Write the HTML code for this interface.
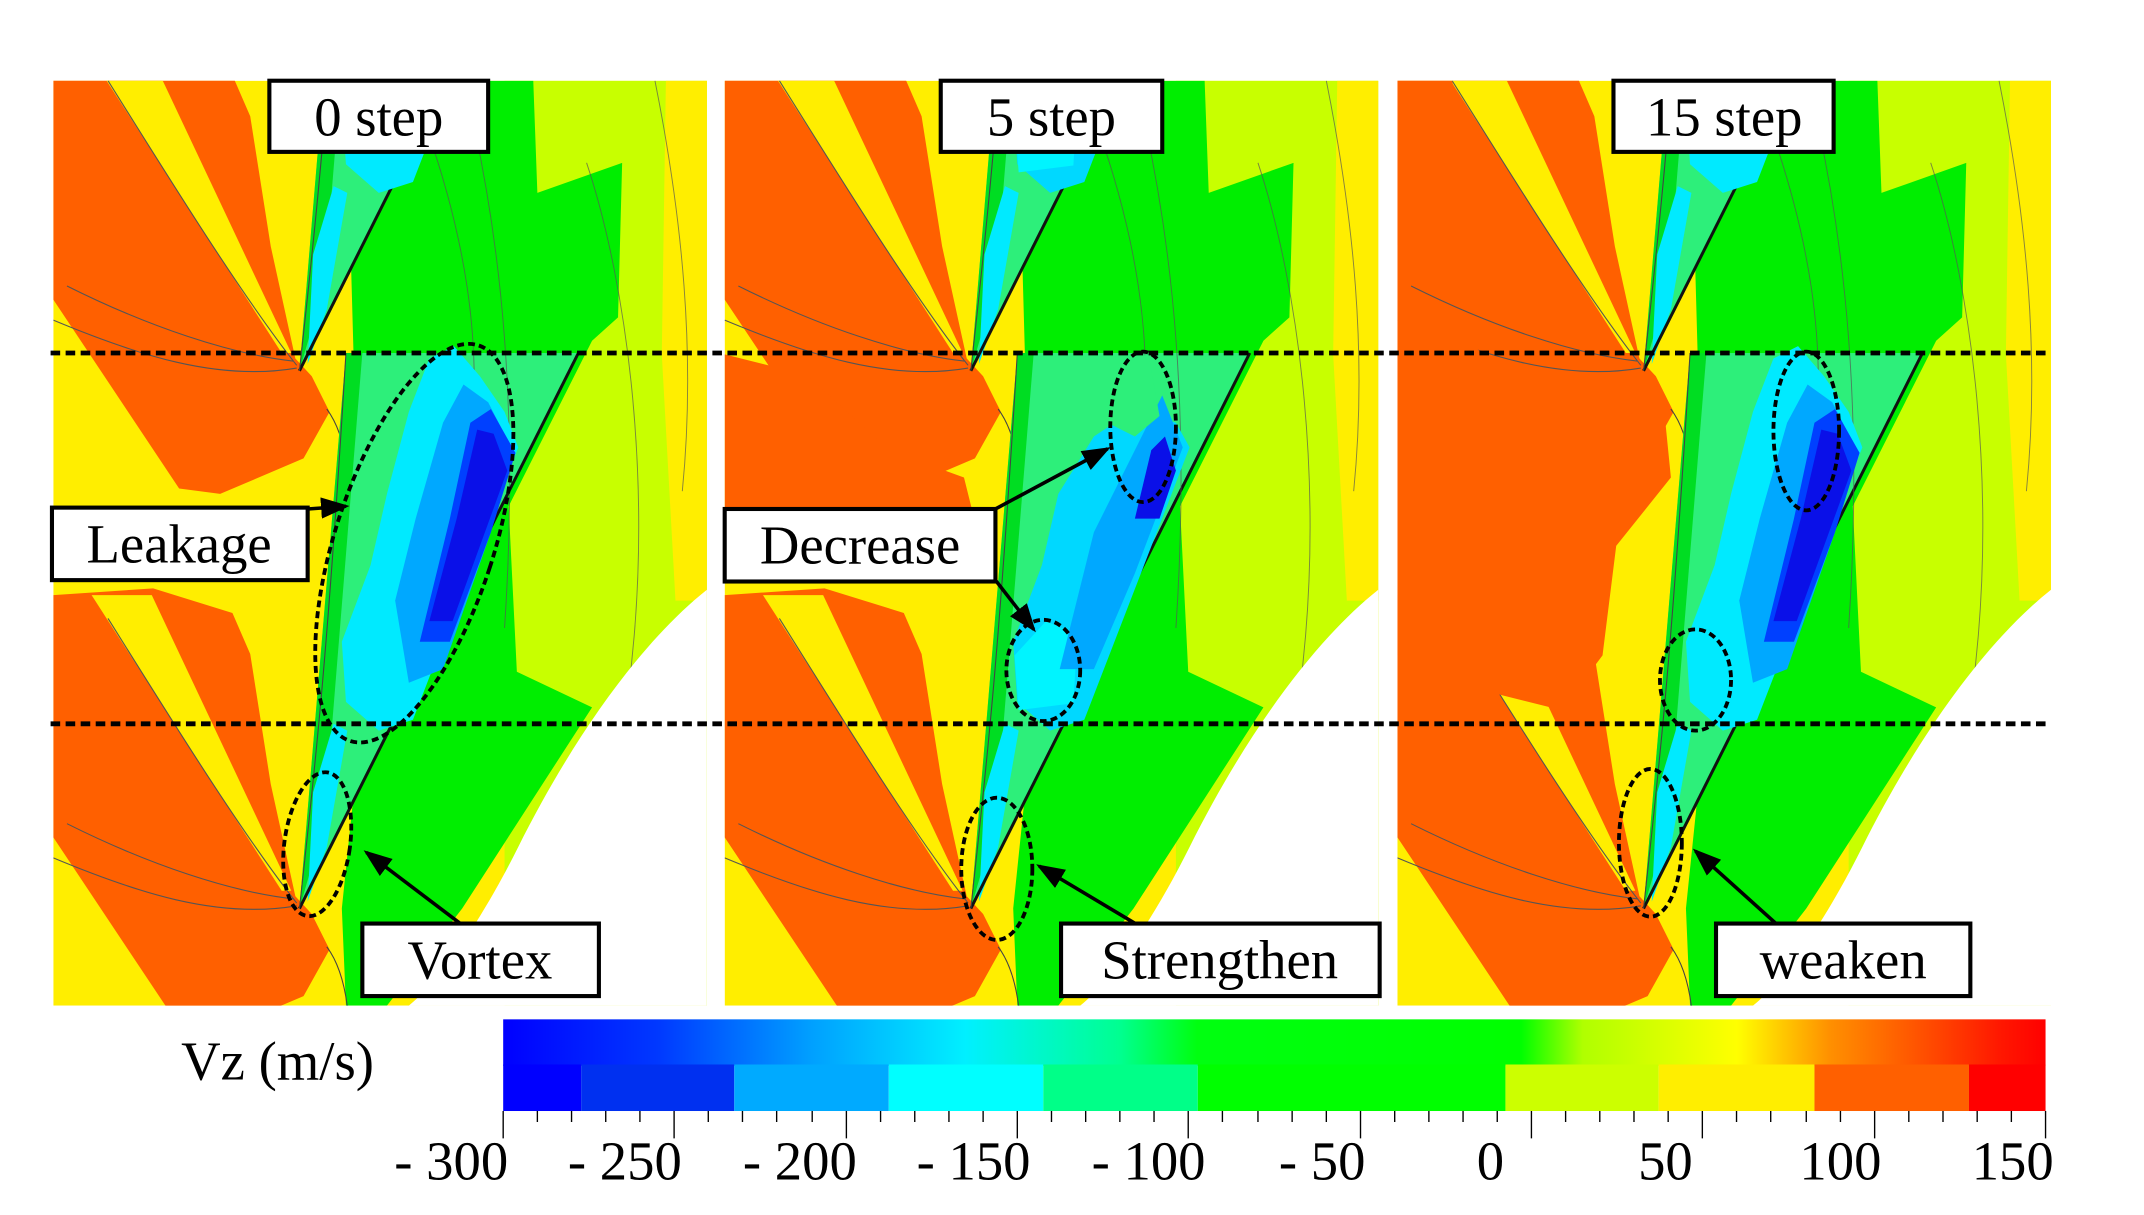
<!DOCTYPE html>
<html><head><meta charset="utf-8"><style>
html,body{margin:0;padding:0;background:#fff;}
svg{display:block;}
text{font-family:"Liberation Serif",serif;}
</style></head><body>
<svg width="2144" height="1215" viewBox="0 0 1568 888" preserveAspectRatio="none" xmlns="http://www.w3.org/2000/svg">
<defs>
<clipPath id="cp"><rect x="0" y="0" width="478" height="676"/></clipPath>
<g id="per">
  <polygon fill="#ff6000" points="0,-17 73,-22 131,-4 144,26 159,121 177,203 189,216 202,242 183,276 122,302 92,298 0,160"/>
  <polygon fill="#ffee00" points="28,-17 72,-17 174,199 167,199"/>
  <path d="M0,175 C60,200 120,220 178,210 M10,150 C70,180 130,200 176,205 M40,0 C90,80 140,160 178,208" stroke="#555" stroke-width="0.8" fill="none"/>
  <polygon fill="#2def7a" points="180,212 214,-194 384,-194"/>
  <polygon fill="#00dd22" points="180,212 214,-194 226,-194 198,150"/>
  <polygon fill="#00eaff" points="186,207 190,127 205,77 215,82 200,167"/>
  <line x1="180" y1="212" x2="384" y2="-194" stroke="#111" stroke-width="2.2"/>
  <path d="M180,212 C190,120 200,40 214,-194" stroke="#444" stroke-width="0.8" fill="none"/>
  <path d="M200,240 C215,260 220,300 214,340" stroke="#444" stroke-width="0.8" fill="none"/>
</g>
<g id="base">
  <rect x="0" y="0" width="478" height="676" fill="#ffee00"/>
  <rect x="330" y="0" width="148" height="676" fill="#c8ff00"/>
  <polygon fill="#ffee00" points="448,0 478,0 478,380 455,380 445,200"/>
  <polygon fill="#00ee00" points="214,0 351,0 354,82 416,60 413,173 394,190 333,311 339,432 394,458 299,605 244,676 214,676 211,605 220,518 214,259 220,216"/>
  <use href="#per"/>
  <use href="#per" transform="translate(0,393)"/>
  <path d="M260,0 C300,100 320,200 300,300 M300,0 C330,120 340,250 330,400 M390,60 C420,150 440,300 420,450 M440,0 C460,100 470,200 460,300" stroke="#555" stroke-width="0.7" fill="none" opacity="0.7"/>
</g>
<g id="white"><path d="M478,372 C430,410 380,480 340,560 C310,620 280,660 260,676 L478,676 Z" fill="#fff"/></g>
<g id="blobA">
  <polygon fill="#00eaff" points="238,475 214,454 211,410 232,354 244,302 260,242 275,203 293,194 312,216 330,242 340,268 263,467"/>
  <polygon fill="#00a8ff" points="260,440 250,380 265,320 285,250 300,222 318,235 335,268 320,330 285,430"/>
  <polygon fill="#0040ff" points="268,410 290,320 305,250 320,240 338,272 320,330 290,410"/>
  <polygon fill="#0a10e8" points="275,395 295,320 310,255 322,258 332,285 312,340 292,395"/>
</g>
<g id="blobB">
  <polygon fill="#00d8ff" points="238,475 214,454 211,410 232,354 244,302 270,260 300,240 330,250 340,268 263,467"/>
  <polygon fill="#00f4ff" points="215,460 212,420 235,395 258,405 255,455"/>
  <polygon fill="#00a8ff" points="245,430 270,330 300,270 320,230 335,268 300,360 270,430"/>
  <polygon fill="#0a10e8" points="300,320 312,270 322,260 330,285 318,320"/>
  <polygon fill="#2def7a" points="280,250 290,205 310,200 318,245 300,260"/>
</g>
</defs>

<g transform="translate(39,59)"><g clip-path="url(#cp)">
  <use href="#base"/>
  <use href="#blobA"/><use href="#blobA" transform="translate(0,-393)"/>
  <use href="#white"/>
</g></g>
<g transform="translate(530,59)"><g clip-path="url(#cp)">
  <use href="#base"/>
  <polygon fill="#ff6000" points="0,200 60,215 120,270 175,290 185,330 150,330 0,330"/>
  <use href="#blobB"/><use href="#blobB" transform="translate(0,-393)"/>
  <use href="#white"/>
</g></g>
<g transform="translate(1022,59)"><g clip-path="url(#cp)">
  <use href="#base"/>
  <polygon fill="#ff6000" points="0,160 40,180 120,250 195,240 200,290 160,340 150,420 120,460 40,440 0,420"/>
  <polygon fill="#ff6000" points="0,0 40,0 60,100 0,120"/>
  <use href="#blobA"/><use href="#blobA" transform="translate(0,-393)"/>
  <use href="#white"/>
</g></g>

<g stroke="#000" stroke-width="3.5" stroke-dasharray="7,4">
<line x1="37" y1="258" x2="1497" y2="258"/>
<line x1="37" y1="529" x2="1497" y2="529"/>
</g>

<g fill="none" stroke="#000" stroke-width="2.8" stroke-dasharray="5,3">
<ellipse cx="303" cy="397" rx="58" ry="152" transform="rotate(18 303 397)"/>
<ellipse cx="232" cy="617" rx="24" ry="53" transform="rotate(8 232 617)"/>
<ellipse cx="836" cy="312" rx="24" ry="55"/>
<ellipse cx="763" cy="490" rx="27" ry="37"/>
<ellipse cx="729" cy="635" rx="26" ry="52"/>
<ellipse cx="1321" cy="315" rx="24" ry="58"/>
<ellipse cx="1240" cy="497" rx="26" ry="37"/>
<ellipse cx="1207" cy="616" rx="23" ry="54"/>
</g>

<defs><marker id="ah" markerWidth="8" markerHeight="8" refX="7" refY="4" orient="auto" markerUnits="strokeWidth"><path d="M0,1 L8,4 L0,7 Z" fill="#000"/></marker></defs>
<g stroke="#000" stroke-width="2.6" marker-end="url(#ah)">
<line x1="225" y1="372" x2="253" y2="370"/>
<line x1="338" y1="676" x2="268" y2="623"/>
<line x1="728" y1="372" x2="810" y2="328"/>
<line x1="728" y1="424" x2="756" y2="460"/>
<line x1="832" y1="676" x2="760" y2="633"/>
<line x1="1300" y1="676" x2="1240" y2="622"/>
</g>

<g fill="#fff" stroke="#000" stroke-width="3">
<rect x="197" y="59" width="160" height="52"/>
<rect x="688" y="59" width="162" height="52"/>
<rect x="1180" y="59" width="161" height="52"/>
<rect x="38" y="371" width="187" height="53"/>
<rect x="530" y="372" width="198" height="53"/>
<rect x="265" y="675" width="173" height="53"/>
<rect x="776" y="675" width="233" height="53"/>
<rect x="1255" y="675" width="186" height="53"/>
</g>
<g font-size="40" text-anchor="middle" fill="#000">
<text x="277" y="99">0 step</text>
<text x="769" y="99">5 step</text>
<text x="1261" y="99">15 step</text>
<text x="131" y="411">Leakage</text>
<text x="629" y="412">Decrease</text>
<text x="351" y="715">Vortex</text>
<text x="892" y="715">Strengthen</text>
<text x="1348" y="715">weaken</text>
</g>

<defs><linearGradient id="cg" x1="368" x2="1496" gradientUnits="userSpaceOnUse">
<stop offset="0" stop-color="#0000ff"/>
<stop offset="0.1" stop-color="#0038ff"/>
<stop offset="0.2" stop-color="#00a0ff"/>
<stop offset="0.3" stop-color="#00f0ff"/>
<stop offset="0.4" stop-color="#00ff90"/>
<stop offset="0.45" stop-color="#00ff10"/>
<stop offset="0.66" stop-color="#00ff00"/>
<stop offset="0.7" stop-color="#b0ff00"/>
<stop offset="0.8" stop-color="#ffff00"/>
<stop offset="0.86" stop-color="#ff9000"/>
<stop offset="0.92" stop-color="#ff5000"/>
<stop offset="0.97" stop-color="#ff1800"/>
<stop offset="1" stop-color="#ff0000"/>
</linearGradient></defs>
<rect x="368" y="745" width="1128" height="34" fill="url(#cg)"/>
<rect x="368" y="778" width="57" height="34" fill="#0000ff"/>
<rect x="425" y="778" width="112" height="34" fill="#0030f0"/>
<rect x="537" y="778" width="113" height="34" fill="#00aaff"/>
<rect x="650" y="778" width="113" height="34" fill="#00ffff"/>
<rect x="763" y="778" width="113" height="34" fill="#00ff88"/>
<rect x="876" y="778" width="225" height="34" fill="#00ff00"/>
<rect x="1101" y="778" width="112" height="34" fill="#ccff00"/>
<rect x="1213" y="778" width="114" height="34" fill="#ffee00"/>
<rect x="1327" y="778" width="113" height="34" fill="#ff6000"/>
<rect x="1440" y="778" width="56" height="34" fill="#ff0000"/>
<g stroke="#000" stroke-width="1">
<path d="M368,812v20 M493,812v20 M619,812v20 M744,812v20 M869,812v20 M995,812v20 M1120,812v20 M1245,812v20 M1371,812v20 M1496,812v20"/>
<path d="M393,812v8 M418,812v8 M443,812v8 M468,812v8 M518,812v8 M543,812v8 M568,812v8 M594,812v8 M644,812v8 M669,812v8 M694,812v8 M719,812v8 M769,812v8 M794,812v8 M819,812v8 M844,812v8 M894,812v8 M920,812v8 M945,812v8 M970,812v8 M1020,812v8 M1045,812v8 M1070,812v8 M1095,812v8 M1145,812v8 M1170,812v8 M1195,812v8 M1220,812v8 M1270,812v8 M1295,812v8 M1321,812v8 M1346,812v8 M1396,812v8 M1421,812v8 M1446,812v8 M1471,812v8"/>
</g>
<g font-size="40" text-anchor="middle" fill="#000">
<text x="330" y="862">- 300</text>
<text x="457" y="862">- 250</text>
<text x="585" y="862">- 200</text>
<text x="712" y="862">- 150</text>
<text x="840" y="862">- 100</text>
<text x="967" y="862">- 50</text>
<text x="1090" y="862">0</text>
<text x="1218" y="862">50</text>
<text x="1346" y="862">100</text>
<text x="1472" y="862">150</text>
</g>
<text x="203" y="789" font-size="40" text-anchor="middle">Vz (m/s)</text>
</svg>
</body></html>
